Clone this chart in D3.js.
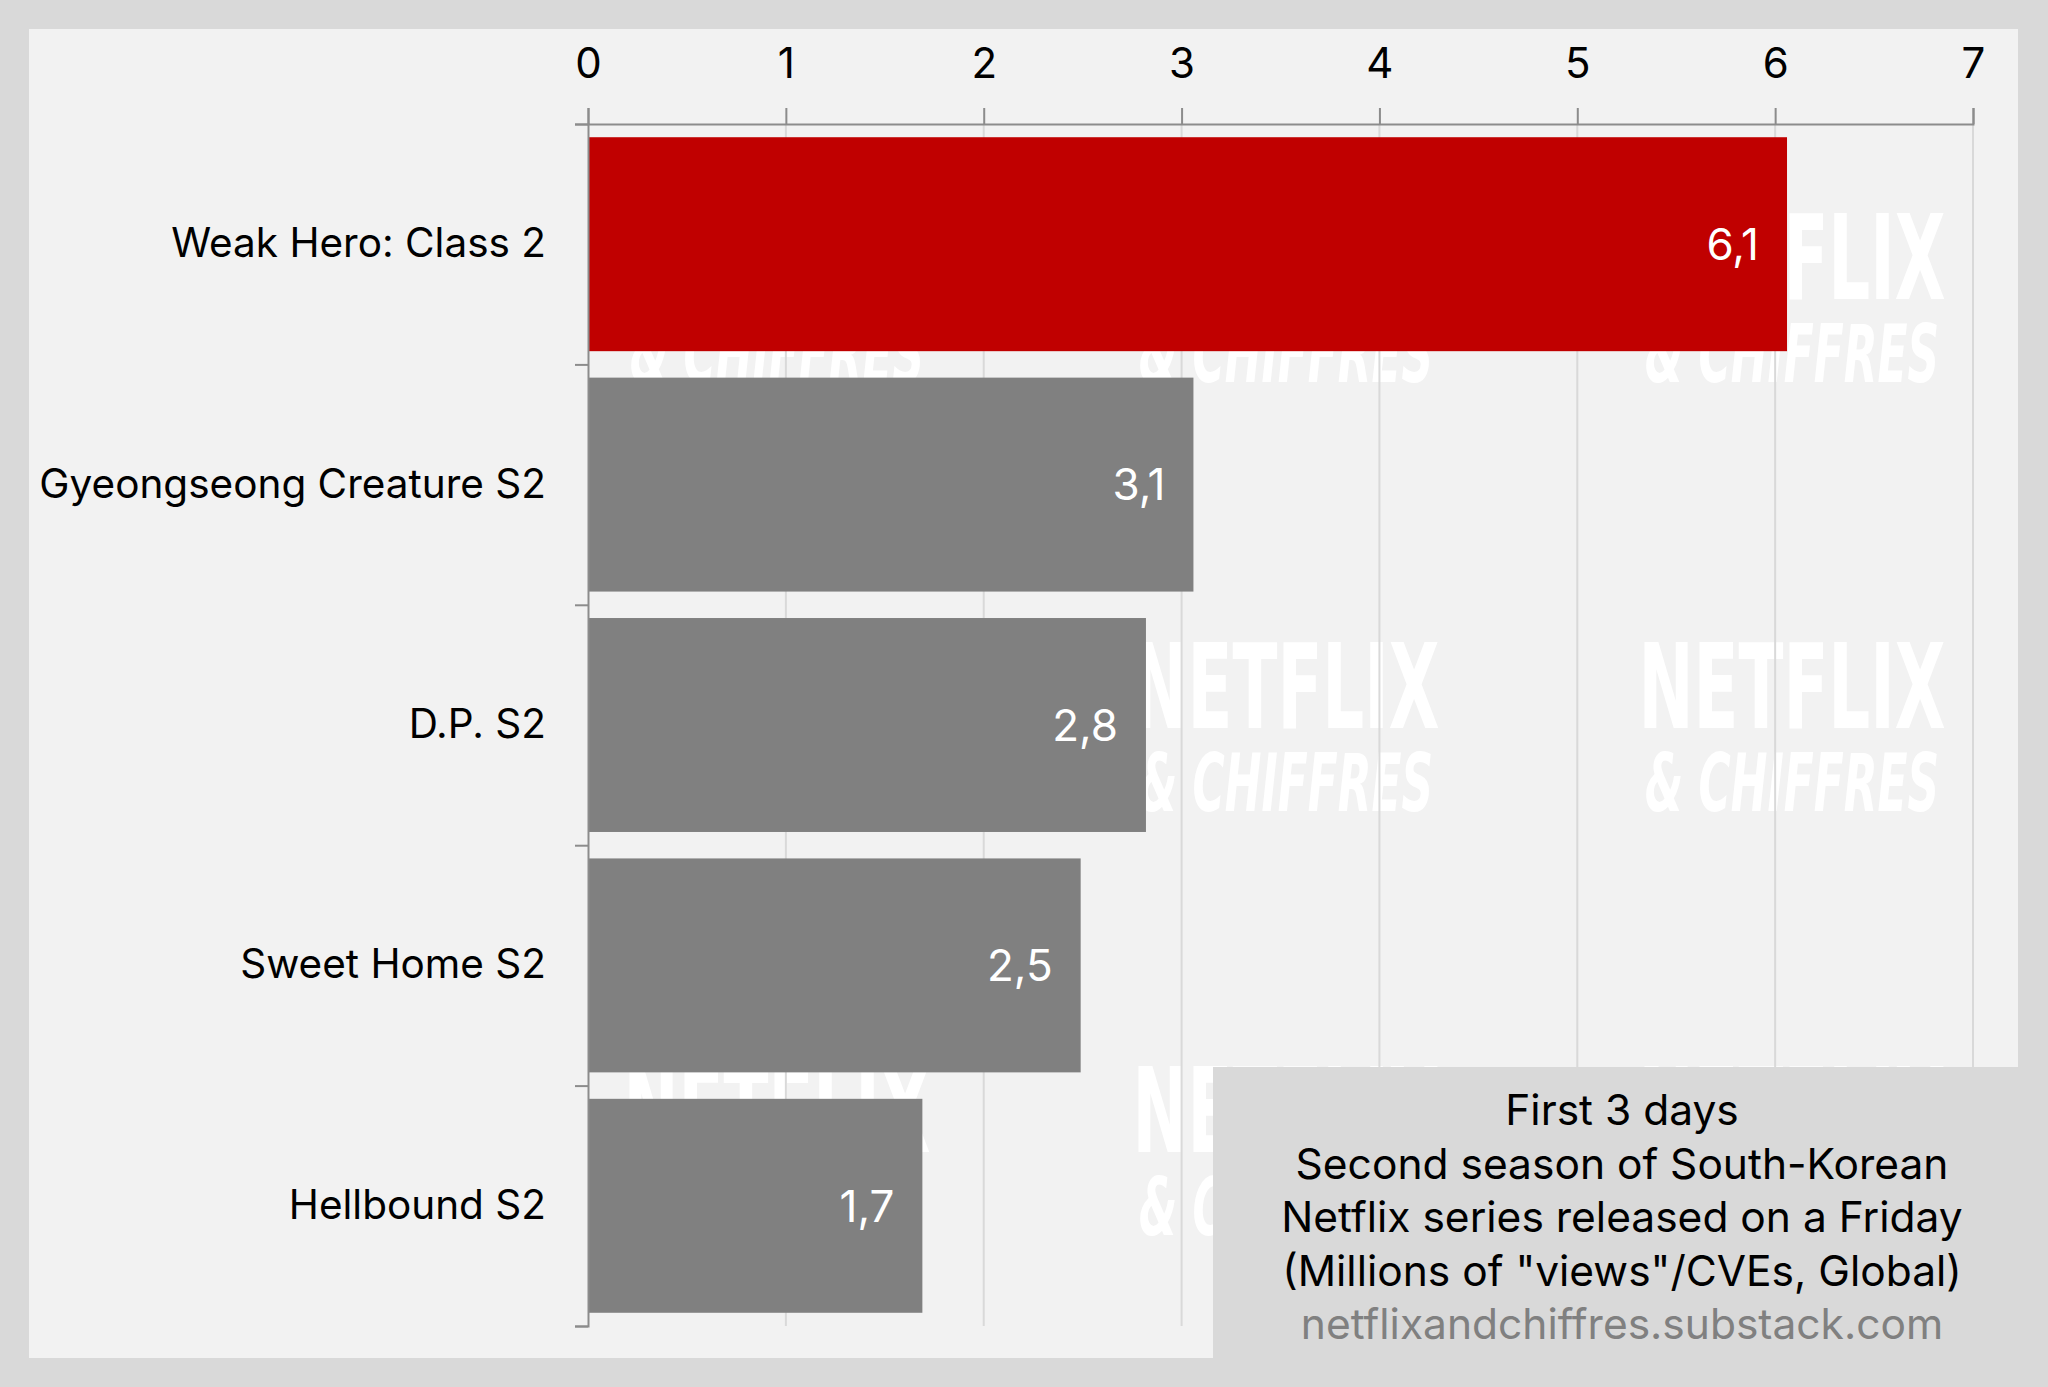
<!DOCTYPE html>
<html>
<head>
<meta charset="utf-8">
<script src="https://cdn.jsdelivr.net/npm/d3@7"></script>
<style>
  body { margin: 0; background: #d9d9d9; }
  svg { display: block; font-family: Inter, "Noto Sans", sans-serif; }
</style>
</head>
<body>
<div id="chart"></div>
<script>
const shows = ['Weak Hero: Class 2', 'Gyeongseong Creature S2', 'D.P. S2', 'Sweet Home S2', 'Hellbound S2']
const views = [6.06, 3.06, 2.82, 2.49, 1.69]
const barColors = ['#c00000', '#808080', '#808080', '#808080', '#808080']
const xTicks = [0, 1, 2, 3, 4, 5, 6, 7]
const noteLines = ['First 3 days', 'Second season of South-Korean', 'Netflix series released on a Friday', '(Millions of "views"/CVEs, Global)']
const noteSource = 'netflixandchiffres.substack.com'

const width = 2048, height = 1387
const margin = { top: 124, right: 75, bottom: 61, left: 588 }

const svg = d3.select('#chart').append('svg')
  .attr('width', width)
  .attr('height', height)

svg.append('rect')
  .attr('width', width).attr('height', height)
  .attr('fill', '#d9d9d9')

svg.append('rect')
  .attr('x', 29).attr('y', 29)
  .attr('width', 1989).attr('height', 1329)
  .attr('fill', '#f2f2f2')

const x = d3.scaleLinear()
  .domain([0, 7])
  .range([margin.left, width - margin.right])

const y = d3.scaleBand()
  .domain(shows)
  .range([margin.top, height - margin.bottom])
  .paddingInner(0.11)
  .paddingOuter(0.055)

// watermarks
const wmX = [777, 1286, 1792]
const wmY = [257, 686, 1110]
const wm = svg.append('g').attr('fill', '#ffffff')
wmY.forEach(cy => {
  wmX.forEach(cx => {
    wm.append('text')
      .attr('x', cx).attr('y', cy + 42)
      .attr('text-anchor', 'middle')
      .attr('font-family', '"Liberation Sans Narrow", "DejaVu Sans Condensed", sans-serif')
      .attr('font-weight', 'bold')
      .attr('font-size', 118)
      .attr('textLength', 307)
      .attr('lengthAdjust', 'spacingAndGlyphs')
      .text('NETFLIX')
    wm.append('text')
      .attr('x', cx).attr('y', cy + 125)
      .attr('text-anchor', 'middle')
      .attr('font-family', '"Liberation Sans Narrow", "DejaVu Sans Condensed", sans-serif')
      .attr('font-style', 'italic')
      .attr('font-weight', 'bold')
      .attr('font-size', 80)
      .attr('textLength', 294)
      .attr('lengthAdjust', 'spacingAndGlyphs')
      .text('& CHIFFRES')
  })
})

// gridlines
svg.append('g')
  .selectAll('line')
  .data(xTicks.slice(1))
  .join('line')
  .attr('x1', d => x(d)).attr('x2', d => x(d))
  .attr('y1', margin.top).attr('y2', height - margin.bottom)
  .attr('stroke', '#d9d9d9')
  .attr('stroke-width', 2)

// bars
svg.append('g')
  .selectAll('rect')
  .data(shows)
  .join('rect')
  .attr('x', x(0))
  .attr('y', d => y(d))
  .attr('width', (d, i) => x(views[i]) - x(0))
  .attr('height', y.bandwidth())
  .attr('fill', (d, i) => barColors[i])

// value labels
const fmt = d3.format('.1f')
svg.append('g')
  .selectAll('text')
  .data(shows)
  .join('text')
  .attr('x', (d, i) => x(views[i]) - 28)
  .attr('y', d => y(d) + y.bandwidth() / 2)
  .attr('dy', '0.36em')
  .attr('text-anchor', 'end')
  .attr('fill', '#ffffff')
  .attr('font-size', 44)
  .text((d, i) => fmt(views[i]).replace('.', ','))

// x axis on top
const xAxis = svg.append('g')
  .attr('transform', `translate(0,${margin.top})`)
  .call(d3.axisTop(x).tickValues(xTicks).tickFormat(d3.format('d')).tickSize(16).tickPadding(30))
xAxis.select('.domain').attr('stroke', '#8c8c8c').attr('stroke-width', 2)
xAxis.selectAll('.tick line').attr('stroke', '#8c8c8c').attr('stroke-width', 2)
xAxis.selectAll('.tick text')
  .attr('font-size', 42)
  .attr('font-family', 'Inter, sans-serif')
  .attr('fill', '#000')

// y axis: boundary ticks
const yEdge = d3.scaleLinear()
  .domain([0, shows.length])
  .range([margin.top, height - margin.bottom])
const yAxis = svg.append('g')
  .attr('transform', `translate(${margin.left},0)`)
  .call(d3.axisLeft(yEdge).ticks(shows.length).tickSize(13).tickFormat(''))
yAxis.select('.domain').attr('stroke', '#8c8c8c').attr('stroke-width', 2)
yAxis.selectAll('.tick line').attr('stroke', '#8c8c8c').attr('stroke-width', 2)

// category labels
const yLabels = svg.append('g')
  .attr('transform', `translate(${margin.left},0)`)
  .call(d3.axisLeft(y).tickSize(0).tickPadding(42))
yLabels.select('.domain').remove()
yLabels.selectAll('.tick text')
  .attr('font-size', 40.5)
  .attr('font-family', 'Inter, sans-serif')
  .attr('fill', '#000')

// note box
const note = svg.append('g')
note.append('rect')
  .attr('x', 1213).attr('y', 1067)
  .attr('width', 2018 - 1213).attr('height', 1358 - 1067)
  .attr('fill', '#d9d9d9')
note.selectAll('text.line')
  .data(noteLines)
  .join('text')
  .attr('class', 'line')
  .attr('x', 1622)
  .attr('y', (d, i) => 1110 + i * 53.5)
  .attr('dy', '0.36em')
  .attr('text-anchor', 'middle')
  .attr('font-size', 42.5)
  .attr('fill', '#000')
  .text(d => d)
note.append('text')
  .attr('x', 1622)
  .attr('y', 1110 + 4 * 53.5)
  .attr('dy', '0.36em')
  .attr('text-anchor', 'middle')
  .attr('font-size', 42.5)
  .attr('fill', '#808080')
  .text(noteSource)
</script>
</body>
</html>
